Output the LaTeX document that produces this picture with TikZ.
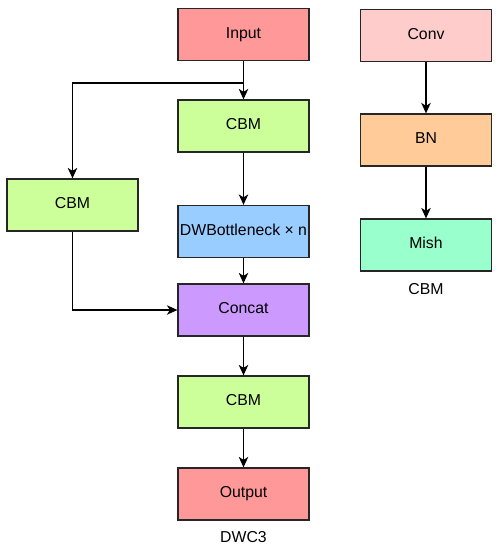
\documentclass[tikz,border=0pt]{standalone}
\usepackage{fontspec}
\setmainfont{Liberation Sans}
\usetikzlibrary{arrows.meta}
\definecolor{redbox}{HTML}{FF9999}
\definecolor{greenbox}{HTML}{CCFF99}
\definecolor{bluebox}{HTML}{99CCFF}
\definecolor{purplebox}{HTML}{CC99FF}
\definecolor{pinkbox}{HTML}{FFCCCC}
\definecolor{orangebox}{HTML}{FFCC99}
\definecolor{mintbox}{HTML}{99FFCC}
\tikzset{
  block/.style = {draw = black!85, line width = 0.7pt, minimum width = 2.62cm,
    minimum height = 1.04cm, inner sep = 0pt, font = \fontsize{9}{11}\selectfont},
  arr/.style = {line width = 0.7pt, -{Stealth[length = 2.1mm, width = 1.9mm, inset = 0.6mm]}}
}

\begin{document}
\begin{tikzpicture}[x = 0.2mm, y = -0.2mm]
      \useasboundingbox (0, 0) rectangle (502, 550);
      \node[block, fill = redbox] (inp) at (243.5, 34.5) {\strut{}Input};
      \node[block, fill = greenbox] (cbma) at (243.5, 126) {\strut{}CBM};
      \node[block, fill = greenbox] (cbml) at (72.5, 205) {\strut{}CBM};
      \node[block, fill = bluebox] (dwb) at (243.5, 231.5) {\strut{}DWBottleneck × n};
      \node[block, fill = purplebox] (concat) at (243.5, 310) {\strut{}Concat};
      \node[block, fill = greenbox] (cbmb) at (243.5, 402) {\strut{}CBM};
      \node[block, fill = redbox] (out) at (243.5, 494) {\strut{}Output};
      \node[font = \fontsize{9}{11}\selectfont] (dwclabel) at (243.5, 539) {\strut{}DWC3};
      \coordinate (split) at (243.5, 83);
      \draw[arr] (inp) -- (cbma);
      \draw[arr] (split) -| (cbml.north);
      \draw[arr] (cbma) -- (dwb);
      \draw[arr] (dwb) -- (concat);
      \draw[arr] (cbml.south) |- (concat.west);
      \draw[arr] (concat) -- (cbmb);
      \draw[arr] (cbmb) -- (out);
      \node[block, fill = pinkbox] (conv) at (426, 35.5) {\strut{}Conv};
      \node[block, fill = orangebox] (bn) at (426, 140) {\strut{}BN};
      \node[block, fill = mintbox] (mish) at (426, 245) {\strut{}Mish};
      \node[font = \fontsize{9}{11}\selectfont] (cbmlabel) at (426, 291) {\strut{}CBM};
      \draw[arr] (conv) -- (bn);
      \draw[arr] (bn) -- (mish);
    \end{tikzpicture}
\end{document}
